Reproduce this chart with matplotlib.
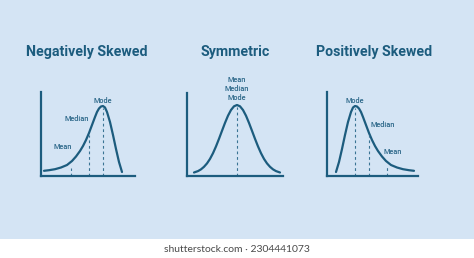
import numpy as np
import matplotlib
matplotlib.use("Agg")
import matplotlib.pyplot as plt
from matplotlib.patches import Rectangle

# Colours and sizes
bg = "#d4e4f4"
ink = "#1c5c7e"
W, H = 474, 258

# Curve data (x along the axis, height above it)
neg_x = [3, 8, 14, 20, 26, 31, 35, 39, 42, 45, 48, 51, 54, 56, 58, 60, 62, 64, 66, 69, 72, 75, 78, 81]
neg_y = [5.2, 5.8, 6.8, 8.5, 11, 15, 19.5, 25, 30, 36, 43, 51, 59, 64, 67.5, 69.5, 70, 68.5, 64, 54, 41, 27, 14, 4]

sym_x = [7, 11, 14, 17, 20, 23, 26, 29, 32, 35, 38, 41, 44, 47, 50,
         53, 56, 59, 62, 65, 68, 71, 74, 77, 80, 83, 86, 89, 93]
sym_y = [3.5, 4.9, 6.65, 9.2, 12.6, 17.1, 22.8, 29.6, 37.2, 45.2, 53.1, 60.3, 66.0, 69.7, 71,
         69.7, 66.0, 60.3, 53.1, 45.2, 37.2, 29.6, 22.8, 17.1, 12.6, 9.2, 6.65, 4.9, 3.5]

pos_x = [9, 12, 15, 18, 21, 24, 26, 28, 30, 32, 34, 36, 39, 42, 45, 48, 51, 55, 59, 64, 70, 76, 82, 87]
pos_y = [4, 14, 27, 41, 54, 64, 68.5, 70, 69.5, 67.5, 64, 59, 51, 43, 36, 30, 25, 19.5, 15, 11, 8.5, 6.8, 5.8, 5.2]

titles = ["Negatively Skewed", "Symmetric", "Positively Skewed"]
# dashed marker positions per panel, and how far each dash stops below the curve
marks = [[30, 48, 62], [50], [28, 42, 60]]
gaps = [[6, 1.5, 1.5], [1.5], [1.5, 1.5, 5]]
# labels per panel: (text, x, y)
labels = [
    [("Mean", 22, 29), ("Median", 36, 57), ("Mode", 62, 75)],
    [("Mean", 50, 96), ("Median", 50, 87), ("Mode", 50, 78)],
    [("Mode", 28, 75), ("Median", 56, 51), ("Mean", 66, 24)],
]
curves = [(neg_x, neg_y), (sym_x, sym_y), (pos_x, pos_y)]

# panel boxes in pixels: left, baseline, right, top
boxes = [(41, 176, 135, 92), (187, 176, 283, 93), (327, 176, 418, 92)]
title_x = [87, 235, 374]

fig = plt.figure(figsize=(W / 100, H / 100), dpi=100)
fig.patch.set_facecolor("white")
fig.add_artist(Rectangle((0, 19 / H), 1, 1 - 19 / H, transform=fig.transFigure,
                         facecolor=bg, edgecolor="none", zorder=0))

for i in range(3):
    l, b, r, t = boxes[i]
    ax = fig.add_axes([l / W, 1 - b / H, (r - l) / W, (b - t) / H])
    ax.set_facecolor("none")
    ax.set_xlim(0, r - l)
    ax.set_ylim(0, b - t)
    for s in ["top", "right"]:
        ax.spines[s].set_visible(False)
    for s in ["left", "bottom"]:
        ax.spines[s].set_color(ink)
        ax.spines[s].set_linewidth(1.6)
    ax.set_xticks([])
    ax.set_yticks([])

    cx, cy = curves[i]
    ax.plot(cx, cy, color=ink, lw=1.6, clip_on=False, solid_capstyle="round")
    for m, g in zip(marks[i], gaps[i]):
        top = np.interp(m, cx, cy)
        ax.plot([m, m], [0, top - g], color="#3a7494", lw=0.8, dashes=(2.5, 2.5))
    for txt, x, y in labels[i]:
        ax.text(x, y, txt, color="#2a6688", fontsize=5.3, ha="center", va="center",
                family="Roboto", fontweight="medium")

    fig.text(title_x[i] / W, 1 - 52 / H, titles[i], color=ink, fontsize=10.2,
             fontweight="bold", ha="center", va="center", family="Roboto")

fig.text(237 / W, 1 - 249 / H, "shutterstock.com · 2304441073", color="#4a4a4a",
         fontsize=7.5, ha="center", va="center", family="Lato")

fig.savefig("out.png", dpi=100)
